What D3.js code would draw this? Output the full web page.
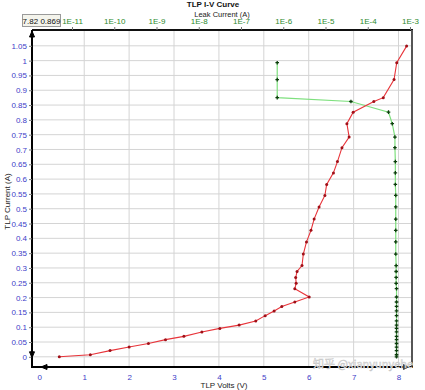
<!DOCTYPE html>
<html>
<head>
<meta charset="utf-8">
<script src="https://cdn.jsdelivr.net/npm/d3@7"></script>
<style>
html,body{margin:0;padding:0;background:#fff;}
svg{display:block;font-family:"Liberation Sans",Arial,sans-serif;}
</style>
</head>
<body>
<svg id="chart" width="425" height="390"></svg>
<script>
// ---- data ----
const tlpVolts = [0.445,1.136,1.575,2.00,2.43,2.81,3.22,3.62,4.02,4.45,4.82,5.03,5.23,5.40,5.69,6.01,5.69,5.72,5.71,5.74,5.85,5.88,5.95,6.05,6.12,6.23,6.36,6.40,6.55,6.64,6.74,6.90,6.85,6.99,7.45,7.66,7.90,7.96,8.18];
const tlpCurrent = [0.0,0.007,0.021,0.033,0.045,0.058,0.069,0.084,0.096,0.107,0.121,0.139,0.155,0.170,0.185,0.202,0.230,0.248,0.268,0.288,0.308,0.347,0.388,0.427,0.465,0.506,0.545,0.582,0.621,0.659,0.706,0.742,0.787,0.826,0.862,0.875,0.936,0.993,1.049];
const leakCurrent = [4.8e-4,4.8e-4,4.8e-4,4.8e-4,4.8e-4,4.8e-4,4.8e-4,4.8e-4,4.8e-4,4.8e-4,4.8e-4,4.8e-4,4.8e-4,4.8e-4,4.8e-4,4.8e-4,4.8e-4,4.7e-4,4.7e-4,4.7e-4,4.7e-4,4.6e-4,4.6e-4,4.6e-4,4.6e-4,4.6e-4,4.6e-4,4.5e-4,4.5e-4,4.5e-4,4.4e-4,4.4e-4,3.8e-4,3.1e-4,4.0e-5,7.2e-7,7.2e-7,7.2e-7];
const leakPulseCurrent = tlpCurrent.slice(0, leakCurrent.length);
const yTicks = [0,0.05,0.1,0.15,0.2,0.25,0.3,0.35,0.4,0.45,0.5,0.55,0.6,0.65,0.7,0.75,0.8,0.85,0.9,0.95,1,1.05];
const xTicks = [0,1,2,3,4,5,6,7,8];
const leakTicks = [1e-11,1e-10,1e-9,1e-8,1e-7,1e-6,1e-5,1e-4,1e-3];
const leakTickLabels = ["1E-11","1E-10","1E-9","1E-8","1E-7","1E-6","1E-5","1E-4","1E-3"];
const cursorText = "7.82 0.869";

// ---- layout ----
const L = 32, R = 412, T = 30, B = 367;
const svg = d3.select("#chart");
const x = d3.scaleLinear().domain([-0.163, 8.3]).range([L, R]);
const y = d3.scaleLinear().domain([-0.0344, 1.1034]).range([B, T]);
const xl = d3.scaleLog().domain([1e-11, 1e-3]).range([72, 410]);

// gridlines
const grid = svg.append("g");
grid.selectAll("line.h").data(yTicks).join("line")
  .attr("x1", L).attr("x2", R).attr("y1", d => y(d)).attr("y2", d => y(d))
  .attr("stroke", "#d4d4d4").attr("stroke-width", 1);
grid.selectAll("line.v").data(xTicks.filter(d => d > 0)).join("line")
  .attr("x1", d => x(d)).attr("x2", d => x(d)).attr("y1", T).attr("y2", B)
  .attr("stroke", "#d4d4d4").attr("stroke-width", 1);

// clip
svg.append("clipPath").attr("id", "clip").append("rect")
  .attr("x", L).attr("y", T).attr("width", R - L).attr("height", B - T);
const plot = svg.append("g").attr("clip-path", "url(#clip)");

// green leak series
const gData = leakCurrent.map((d, i) => ({ x: xl(d), y: y(leakPulseCurrent[i]) }));
plot.append("path").datum(gData)
  .attr("fill", "none").attr("stroke", "#7ee07e").attr("stroke-width", 1.2)
  .attr("d", d3.line().x(d => d.x).y(d => d.y));
plot.selectAll("path.gm").data(gData).join("path")
  .attr("d", d => `M${d.x - 1.8},${d.y}h3.6M${d.x},${d.y - 1.8}v3.6`)
  .attr("stroke", "#0b3d0b").attr("stroke-width", 1.3);

// red TLP series
const rData = tlpVolts.map((v, i) => ({ x: x(v), y: y(tlpCurrent[i]) }));
plot.append("path").datum(rData)
  .attr("fill", "none").attr("stroke", "#e8343a").attr("stroke-width", 1.1)
  .attr("d", d3.line().x(d => d.x).y(d => d.y));
plot.selectAll("circle.rm").data(rData).join("circle")
  .attr("cx", d => d.x).attr("cy", d => d.y).attr("r", 1.5)
  .attr("fill", "#a01018");

// frame
svg.append("line").attr("x1", L).attr("x2", R + 1).attr("y1", T).attr("y2", T).attr("stroke", "#111").attr("stroke-width", 2);
svg.append("line").attr("x1", R).attr("x2", R).attr("y1", T).attr("y2", B).attr("stroke", "#555").attr("stroke-width", 2);
svg.append("line").attr("x1", L).attr("x2", L).attr("y1", T).attr("y2", B + 1).attr("stroke", "#000").attr("stroke-width", 2);
svg.append("line").attr("x1", L).attr("x2", R + 1).attr("y1", B).attr("y2", B).attr("stroke", "#000").attr("stroke-width", 2);

// left axis ticks + labels
const yAxis = svg.append("g").attr("transform", `translate(${L},0)`)
  .call(d3.axisLeft(y).tickValues(yTicks).tickSize(3).tickPadding(2).tickFormat(d => d3.format("")(+d.toFixed(2))));
yAxis.select(".domain").remove();
yAxis.selectAll("line").attr("stroke", "#777");
yAxis.selectAll("text").attr("fill", "#3d3dc8").style("font-size", "8px");

// bottom axis
const xAxis = svg.append("g").attr("transform", `translate(0,${B})`)
  .call(d3.axisBottom(x).tickValues(xTicks).tickSize(0).tickPadding(7).tickFormat(d3.format("d")));
xAxis.select(".domain").remove();
xAxis.selectAll("text").attr("fill", "#3d3dc8").style("font-size", "8px");

// top axis (leak)
const tAxis = svg.append("g").attr("transform", `translate(0,${T})`)
  .call(d3.axisTop(xl).tickValues(leakTicks).tickSize(3).tickPadding(3).tickFormat((d, i) => leakTickLabels[i]));
tAxis.select(".domain").remove();
tAxis.selectAll("line").attr("stroke", "#777");
tAxis.selectAll("text").attr("fill", "#2e8b2e").style("font-size", "8px");

// titles
svg.append("text").attr("x", 213).attr("y", 7).attr("text-anchor", "middle")
  .style("font-size", "8px").style("font-weight", "bold").attr("fill", "#111").text("TLP I-V Curve");
svg.append("text").attr("x", 222).attr("y", 16.5).attr("text-anchor", "middle")
  .style("font-size", "7.5px").attr("fill", "#222").text("Leak Current (A)");
svg.append("text").attr("x", 224).attr("y", 388).attr("text-anchor", "middle")
  .style("font-size", "8px").attr("fill", "#222").text("TLP Volts (V)");
svg.append("text").attr("transform", `translate(9.5,${(T + B) / 2 + 3}) rotate(-90)`)
  .attr("text-anchor", "middle").style("font-size", "8px").attr("fill", "#222").text("TLP Current (A)");

// cursor readout box
svg.append("rect").attr("x", 22.5).attr("y", 14.5).attr("width", 38).attr("height", 12)
  .attr("fill", "#f4f4ec").attr("stroke", "#9a9a9a").attr("stroke-width", 1);
svg.append("text").attr("x", 41.5).attr("y", 23.5).attr("text-anchor", "middle")
  .style("font-size", "8px").attr("fill", "#111").text(cursorText);

// cursor arrows
const arr = svg.append("g").attr("fill", "#000").attr("stroke", "#000");
arr.append("path").attr("d", `M${L},${T + 1}l-2.5,6h5z`);
arr.append("path").attr("d", `M${L},${y(0) + 1}l-2.5,-6h5z`);
arr.append("line").attr("x1", L).attr("x2", L).attr("y1", y(0) - 10).attr("y2", y(0) - 2).attr("stroke-width", 1.5);
arr.append("path").attr("d", `M${L + 9},${B}l6,-2.5v5z`);
arr.append("line").attr("x1", L + 14).attr("x2", L + 19).attr("y1", B).attr("y2", B).attr("stroke-width", 1.5);
arr.append("path").attr("d", `M${x(8.22)},${B}l-5,-2.5v5z`).attr("fill", "#444").attr("stroke", "#444");

// watermark
svg.append("text").attr("x", 413).attr("y", 367.5).attr("text-anchor", "end")
  .style("font-size", "11px").style("font-family", "'Noto Sans CJK SC','Liberation Sans',sans-serif")
  .attr("fill", "#e8e8e8").attr("stroke", "#c4c4c4").attr("stroke-width", 0.4)
  .text("知乎 @xianyunyehe");
</script>
</body>
</html>
